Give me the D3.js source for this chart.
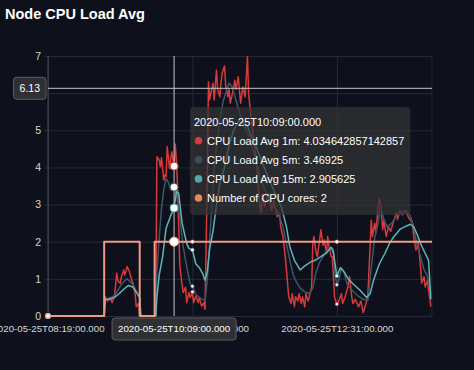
<!DOCTYPE html>
<html>
<head>
<meta charset="utf-8">
<title>Node CPU Load Avg</title>
<script src="https://cdn.jsdelivr.net/npm/d3@7"></script>
<style>
  html, body { margin: 0; padding: 0; background: #0e111b; }
  svg { display: block; font-family: "Liberation Sans", Arial, Helvetica, sans-serif; }
</style>
</head>
<body>
<div id="cpu-load"></div>
<script>
// all series are [minutes after 08:19, value]
const startTime = new Date(2020, 4, 25, 8, 19, 0);
const endMinute = 335;
const tickMinutes = [0, 126, 252];
const yTicks = [0, 1, 2, 3, 4, 5, 6, 7];
const hoverMinute = 110;
const pointerValue = 6.13;

const seriesNames = ["CPU Load Avg 1m", "CPU Load Avg 5m", "CPU Load Avg 15m", "Number of CPU cores"];

const load1m = [
  [0,0],[49,0],[50,0.52],[52,0.4],[54,0.5],[56,0.36],[58,0.55],[60,1.15],[61.5,0.95],[63,0.88],[64.5,1.05],
  [66,1.24],[67.5,1.1],[69,1.33],[71,1.2],[73,0.97],[74.5,0.9],[76,0.61],[77.5,0.25],[79,0.34],[80,0],
  [94,0],[95.3,4.29],[97,4.2],[98.5,4.02],[99.7,4.26],[101,3.66],[102.3,3.8],[103.5,3.75],[104.9,4.56],
  [106.4,3.98],[108,4.42],[110,4.034642857142857],[111,4.63],[112.2,4.2],[113,3.5],[114.5,2.43],[115.7,1.36],
  [117.1,0.82],[118.4,0.63],[120,0.77],[121.8,0.36],[123.2,0.63],[124.7,0.5],[126,0.65],[127.6,0.36],
  [129,0.54],[131,0.36],[132.5,0.5],[134.6,0.27],[136.3,0.36],[137.5,0.18],
  [139.2,3.8],[140.4,6.3],[141.5,5.82],[142.6,6.0],[144,6.27],[145.2,5.82],[147.1,6.62],[148.5,6.1],
  [150,5.9],[151.5,6.3],[152.9,6.55],[154.3,6.73],[155.8,6.2],[157.2,5.9],[158.5,6.1],[159.8,5.73],
  [161.5,6.0],[163,6.35],[164.5,6.1],[166,6.44],[168,5.73],[170.3,6.17],[172,5.9],[174.1,6.98],[175.4,6.0],
  [177,5.37],[179,4.9],[181.4,4.38],[183.4,3.75],[184.9,3.2],[186.3,2.77],[187.8,3.3],[189.8,2.95],
  [192.1,3.3],[195,2.85],[197.9,3.1],[200.8,2.67],[202.3,2.77],[203.7,2.4],[205.5,2.13],[207.5,1.6],
  [210.4,0.52],[212,0.34],[213.9,0.6],[215.4,0.25],[216.8,0.52],[218.2,0.4],[219.7,0.6],[221,0.34],
  [222.6,0.52],[224,0.25],[225.6,0.6],[227,0.4],[228.5,0.52],[230,0.78],[231.3,1.96],[232.8,2.14],
  [234.3,1.69],[235.7,1.6],[237.2,2.05],[238.6,2.32],[240,1.9],[241.5,2.05],[243,1.69],[244.4,2.14],
  [245.9,1.9],[247.4,1.6],[248.8,1.6],[250.3,0.5],[252,0.32],[254.6,0.43],[256,0.6],[257.5,0.34],
  [259,0.5],[261,0.7],[263.3,1.06],[265,0.52],[266.5,0.34],[268,0.45],[271.5,0.25],[273,0.4],[275,0.09],
  [277,0.3],[279.3,0.52],[282.2,2.58],[283.7,2.14],[285.2,2.5],[286.6,2.24],[288,2.94],[289.5,3.17],
  [290.9,3.04],[292.4,2.32],[293.8,2.58],[295.3,2.14],[297.6,2.4],[299.6,2.28],[301.7,2.5],[304,2.77],
  [305.5,2.6],[307,2.85],[309.3,2.72],[311.3,2.85],[313.5,2.75],[315.7,2.63],[318,2.5],[319.7,2.14],
  [321.5,1.78],[323,1.96],[325,1.33],[326.4,0.88],[328,1.06],[329.6,0.78],[331,0.95],[332.5,0.7],[334,0.25]
];

const load5m = [
  [0,0],[49,0],[50,0.45],[54,0.48],[58,0.55],[61,0.7],[64,0.85],[67,0.95],[69,1.0],[72,0.92],[75,0.8],
  [78,0.6],[80,0.45],[81,0],
  [94,0],[95.5,1.2],[97,2.1],[99,2.9],[101,3.4],[103.5,3.7],[105.5,3.6],[107.5,3.4],[110,3.46925],[112,3.3],
  [115,2.65],[118,1.86],[121,1.32],[124,0.87],[126,0.8],[129,0.58],[132,0.5],[135,0.45],[137.5,0.4],
  [139.5,1.0],[141,2.0],[143,3.0],[145,3.9],[147,4.6],[150,5.3],[153,5.8],[156,6.1],[158.5,6.27],[161,6.15],
  [164,5.8],[167,5.5],[170,5.2],[173,5.0],[176,4.8],[179,4.45],[182,4.1],[185,3.75],[189,3.4],[193,3.15],
  [197,2.95],[201,2.75],[205,2.4],[208,1.95],[211,1.5],[214,1.1],[217,0.9],[220,0.75],[224,0.65],[228,0.6],
  [231,0.75],[234,1.2],[237,1.45],[240,1.6],[243,1.75],[246,1.85],[249,1.8],[250.5,1.2],[252,0.84],
  [254,1.0],[256,1.3],[258,1.2],[261,0.85],[265,0.7],[270,0.55],[275,0.45],[279.5,0.42],[282.5,1.3],
  [285,2.1],[288,2.5],[290.5,2.95],[293,2.6],[296,2.4],[300,2.5],[304,2.7],[308,2.8],[312,2.85],[316,2.7],
  [319,2.4],[322,1.9],[325,1.6],[328,1.25],[331,1.08],[334,0.6]
];

const load15m = [
  [0,0],[49,0],[50,0.45],[54,0.45],[58,0.5],[62,0.6],[66,0.72],[70,0.82],[74,0.78],[78,0.6],[80,0.5],[81,0],
  [94,0],[95.5,0.5],[97.7,1.1],[100,1.6],[103.8,2.36],[107,2.7],[110,2.905625],[112.5,3.35],[114,3.3],
  [117.7,2.5],[121,1.95],[123.5,1.82],[126,1.78],[129,1.4],[132,1.3],[135,1.14],[137.5,0.96],[139.5,1.2],
  [141.5,1.8],[144,2.3],[147,3.0],[150,3.6],[154,4.0],[158,4.6],[162,5.0],[166,5.25],[170,5.2],[174,5.1],
  [178,4.8],[181,4.6],[186,4.2],[192,3.75],[198,3.3],[204,2.9],[208,2.4],[211,1.86],[215,1.5],[220,1.24],
  [224,1.35],[229,1.45],[233,1.5],[238,1.6],[243,1.7],[247.5,1.85],[249.5,1.7],[252,1.08],[255,1.3],
  [258,1.2],[262,1.0],[266,0.87],[272,0.7],[278,0.5],[281,0.6],[284,0.96],[289.5,1.4],[294,1.69],
  [298,1.96],[302,2.15],[307,2.33],[311,2.4],[316,2.47],[319,2.4],[322,2.2],[325,1.95],[329,1.69],
  [332.5,1.5],[334,0.45]
];

// step changes of the core count
const cpuCores = [[0,0],[49,2],[80,0],[93,2],[335,2]];

const series = [
  { name: seriesNames[0], data: load1m, color: "#d8393a", dot: "#d8393a", width: 1.5 },
  { name: seriesNames[1], data: load5m, color: "#3e566a", dot: "#3a4d5c", width: 1.5 },
  { name: seriesNames[2], data: load15m, color: "#62b4b7", dot: "#4fa8aa", width: 1.5 },
  { name: seriesNames[3], data: cpuCores, color: "#ee9a84", dot: "#e8825f", width: 2, step: true }
];

const W = 474, H = 370;
const margin = { top: 56, right: 42, bottom: 54, left: 48 };
const at = m => d3.timeMinute.offset(startTime, m);
const fmt = d3.timeFormat("%Y-%m-%dT%H:%M:%S.000");

const svg = d3.select("#cpu-load").append("svg")
  .attr("width", W)
  .attr("height", H);

svg.append("rect").attr("width", W).attr("height", H).attr("fill", "#0e111b");

svg.append("text")
  .attr("x", 5)
  .attr("y", 19)
  .attr("fill", "#ffffff")
  .attr("font-size", 14.5)
  .attr("font-weight", "bold")
  .text("Node CPU Load Avg");

const x = d3.scaleTime()
  .domain([at(0), at(endMinute)])
  .range([margin.left, W - margin.right]);

const y = d3.scaleLinear()
  .domain([0, 7])
  .range([H - margin.bottom, margin.top]);

const plotW = W - margin.left - margin.right;
const plotH = H - margin.top - margin.bottom;

// horizontal grid + y labels
const yAxis = svg.append("g")
  .attr("class", "y-axis")
  .attr("transform", `translate(${margin.left},0)`)
  .call(d3.axisLeft(y).tickValues(yTicks).tickSize(-plotW).tickPadding(7).tickFormat(d3.format("d")));
yAxis.select(".domain").remove();
yAxis.selectAll(".tick line").attr("x1", -4).attr("stroke", "#272a36");
yAxis.selectAll(".tick text").attr("fill", "#d4d5d8").attr("font-size", 10.5).attr("font-family", null);

// vertical grid + x labels
const xAxis = svg.append("g")
  .attr("class", "x-axis")
  .attr("transform", `translate(0,${H - margin.bottom})`)
  .call(d3.axisBottom(x).tickValues(tickMinutes.map(at)).tickSize(-plotH).tickPadding(9).tickFormat(fmt));
xAxis.select(".domain").remove();
xAxis.selectAll(".tick line").attr("stroke", "#272a36");
xAxis.selectAll(".tick text").attr("fill", "#d6d7da").attr("font-size", 9.7).attr("font-family", null);

svg.append("line")
  .attr("x1", x(at(endMinute))).attr("x2", x(at(endMinute)))
  .attr("y1", margin.top).attr("y2", H - margin.bottom)
  .attr("stroke", "#232632");

svg.append("line")
  .attr("x1", margin.left).attr("x2", margin.left)
  .attr("y1", margin.top).attr("y2", H - margin.bottom)
  .attr("stroke", "#474a57");

// lines
const lineFor = s => d3.line()
  .x(d => x(at(d[0])))
  .y(d => y(d[1]))
  .curve(s.step ? d3.curveStepAfter : d3.curveLinear);

svg.append("g").attr("class", "lines")
  .selectAll("path")
  .data(series)
  .join("path")
  .attr("fill", "none")
  .attr("stroke", d => d.color)
  .attr("stroke-width", d => d.width)
  .attr("stroke-linejoin", "round")
  .attr("d", d => lineFor(d)(d.data));

function valueAt(s, m) {
  const i = d3.bisector(d => d[0]).right(s.data, m) - 1;
  const a = s.data[Math.max(i, 0)];
  const b = s.data[Math.min(i + 1, s.data.length - 1)];
  if (s.step || a === b || a[0] === m) return a[1];
  return a[1] + (b[1] - a[1]) * (m - a[0]) / (b[0] - a[0]);
}

// small symbols at the labelled times
const sym = svg.append("g").attr("class", "symbols");
tickMinutes.forEach((m, k) => {
  series.forEach(s => {
    sym.append("circle")
      .attr("cx", x(at(m)))
      .attr("cy", y(valueAt(s, m)))
      .attr("r", k === 0 ? 2.4 : 1.7)
      .attr("fill", "#ffffff")
      .attr("stroke", s.color)
      .attr("stroke-width", k === 0 ? 1.2 : 0.6);
  });
});

// crosshair
const hx = x(at(hoverMinute));
svg.append("line")
  .attr("x1", margin.left).attr("x2", W - margin.right)
  .attr("y1", y(pointerValue)).attr("y2", y(pointerValue))
  .attr("stroke", "#c4c5c9").attr("stroke-width", 1);
svg.append("line")
  .attr("x1", hx).attr("x2", hx)
  .attr("y1", margin.top).attr("y2", H - margin.bottom)
  .attr("stroke", "#c4c5c9").attr("stroke-width", 1);

svg.append("g").attr("class", "hover-points")
  .selectAll("circle")
  .data(series)
  .join("circle")
  .attr("cx", hx)
  .attr("cy", d => y(valueAt(d, hoverMinute)))
  .attr("r", d => d.step ? 4.6 : 4)
  .attr("fill", "#ffffff")
  .attr("stroke", d => d.color)
  .attr("stroke-width", 1);

// tooltip
const tip = svg.append("g").attr("transform", "translate(190,107)");
const tipBg = tip.append("rect")
  .attr("rx", 4)
  .attr("fill", "rgba(52,52,54,0.72)");
tip.append("text")
  .attr("x", 4).attr("y", 18.5)
  .attr("fill", "#ffffff").attr("font-size", 11)
  .text(fmt(at(hoverMinute)));
const rows = tip.selectAll("g.row")
  .data(series)
  .join("g")
  .attr("class", "row")
  .attr("transform", (d, i) => `translate(0,${33.7 + i * 19.1})`);
rows.append("circle").attr("cx", 8.5).attr("r", 3.8).attr("fill", d => d.dot);
rows.append("text")
  .attr("x", 17).attr("dy", "0.36em")
  .attr("fill", "#ffffff").attr("font-size", 11)
  .text(d => `${d.name}: ${valueAt(d, hoverMinute)}`);
const tipTextW = d3.max(rows.selectAll("text").nodes(), n => n.getComputedTextLength());
tipBg.attr("width", 17 + tipTextW + 6).attr("height", 108);

// axis pointer labels
function pointerLabel(text, cx, cy, anchorRight, size) {
  const g = svg.append("g");
  const bg = g.append("rect").attr("rx", 3).attr("fill", "#2f3033").attr("stroke", "#5c5d61");
  const t = g.append("text")
    .attr("fill", "#ffffff").attr("font-size", size)
    .attr("text-anchor", "middle").attr("dy", "0.36em")
    .text(text);
  const w = t.node().getComputedTextLength() + 12;
  const left = anchorRight ? cx - w : cx - w / 2;
  t.attr("x", left + w / 2).attr("y", cy);
  bg.attr("x", left).attr("y", cy - 11).attr("width", w).attr("height", 22);
}
pointerLabel(d3.format(".2f")(pointerValue), margin.left - 2, y(pointerValue), true, 10.5);
pointerLabel(fmt(at(hoverMinute)), hx, 329, false, 9.7);
</script>
</body>
</html>
